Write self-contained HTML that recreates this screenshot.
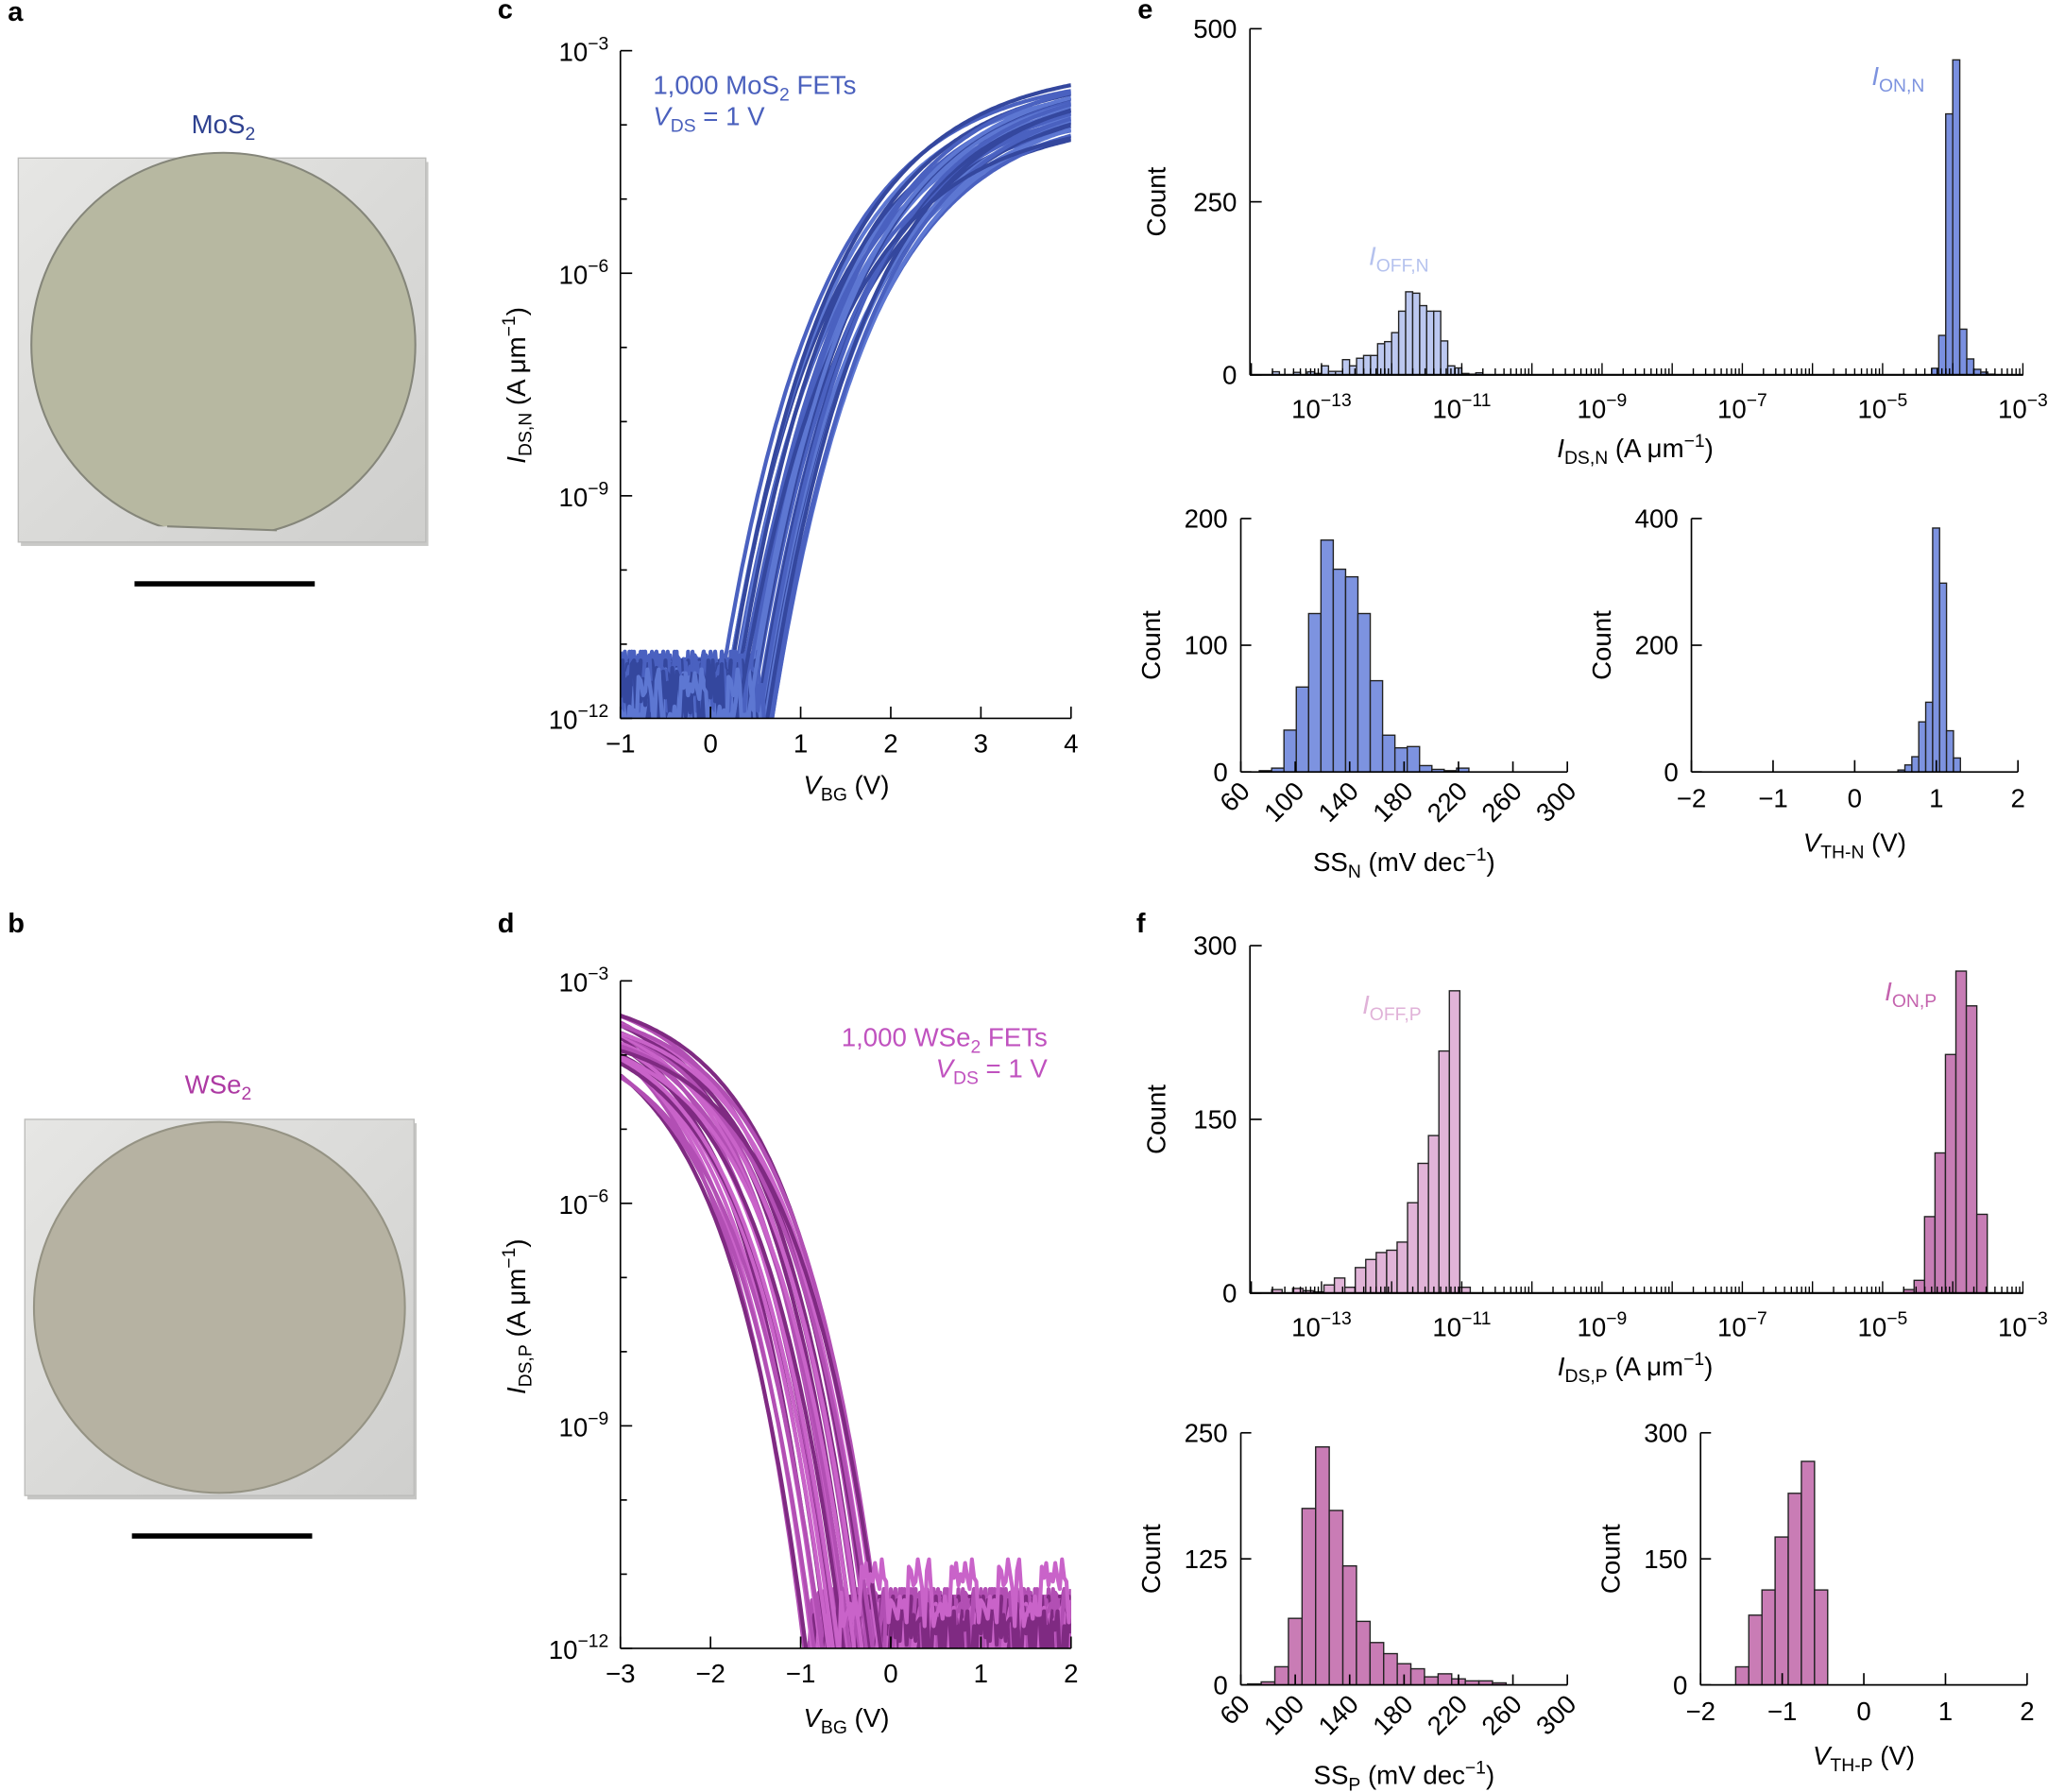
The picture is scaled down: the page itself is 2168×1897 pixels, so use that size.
<!DOCTYPE html>
<html><head><meta charset="utf-8"><title>MoS2 / WSe2 FET wafer statistics</title>
<style>
html,body{margin:0;padding:0;background:#fff;}
svg{display:block;font-family:"Liberation Sans",Arial,sans-serif;}
</style></head>
<body>
<svg id="fig" xmlns="http://www.w3.org/2000/svg" width="2168" height="1897" viewBox="0 0 1568 1372" preserveAspectRatio="none">
<defs>
<linearGradient id="frameA" x1="0" y1="0" x2="1" y2="1"><stop offset="0" stop-color="#e6e6e4"/><stop offset="1" stop-color="#cfcfcd"/></linearGradient>
<clipPath id="clipC"><rect x="475" y="39" width="345" height="511"/></clipPath>
<clipPath id="clipD"><rect x="475" y="751" width="345" height="511"/></clipPath>
<clipPath id="flatA"><path d="M 0 0 H 400 V 404 L 212 406 L 128 403 L 0 403 Z"/></clipPath>
</defs>
<text x="6" y="16" font-size="21" font-weight="bold">a</text>
<text x="6" y="714" font-size="21" font-weight="bold">b</text>
<text x="381" y="14" font-size="21" font-weight="bold">c</text>
<text x="381" y="714" font-size="21" font-weight="bold">d</text>
<text x="871" y="14" font-size="21" font-weight="bold">e</text>
<text x="870" y="714" font-size="21" font-weight="bold">f</text>

<g>
<text x="171" y="102" font-size="20" fill="#2e4190" text-anchor="middle">MoS<tspan font-size="14" dy="5">2</tspan></text>
<rect x="16" y="124" width="312" height="294" fill="#c9c9c7"/>
<rect x="14" y="121" width="312" height="294" fill="url(#frameA)" stroke="#bdbdbb"/>
<ellipse cx="171" cy="264" rx="147" ry="147" fill="#b7b8a1" stroke="#85867a" stroke-width="1.5" clip-path="url(#flatA)"/>
<path d="M 128 403 L 212 406" stroke="#85867a" stroke-width="1.5"/>
<rect x="103" y="445" width="138" height="4" fill="#000"/>
</g>
<g>
<text x="167" y="837" font-size="20" fill="#ad3aa3" text-anchor="middle">WSe<tspan font-size="14" dy="5">2</tspan></text>
<rect x="21" y="860" width="298" height="288" fill="#c6c6c4"/>
<rect x="19" y="857" width="298" height="288" fill="url(#frameA)" stroke="#bdbdbb"/>
<circle cx="168" cy="1001" r="142" fill="#b6b2a2" stroke="#959384" stroke-width="1.5"/>
<rect x="101" y="1174" width="138" height="4" fill="#000"/>
</g>

<g id="plots"></g>
</svg>
<script>
const noise = [0.3,-0.8,0.9,-0.2,0.5,-0.6,0.1,0.7,-0.9,0.4,-0.3,0.8,-0.5,0.2,-0.7,0.6,-0.1,0.9,-0.4,0.0,0.5,-0.9,0.3,-0.6,0.8,-0.2,0.4,-0.8,0.1,0.7,-0.5,0.6,-0.3,0.2,-0.7,0.9,-0.1,0.4,-0.6,0.3];
const vthN = [0.02,0.05,0.08,0.1,0.12,0.15,0.17,0.2,0.22,0.25,0.27,0.3,0.32,0.33,0.35,0.37,0.4,0.42,0.44,0.46,0.48,0.5,0.52,0.54,0.56,0.58,0.6,0.62,0.18,0.38];
const ltopN = [-3.3,-3.6,-3.4,-3.7,-3.2,-3.5,-3.8,-3.3,-3.6,-3.4,-3.9,-3.5,-3.25,-3.7,-3.4,-3.6,-3.3,-3.8,-3.5,-3.45,-3.7,-3.35,-3.6,-3.55,-3.75,-3.4,-3.65,-3.5,-3.9,-3.3];
const vthP = [-0.95,-0.9,-0.85,-0.8,-0.78,-0.75,-0.7,-0.68,-0.65,-0.6,-0.58,-0.55,-0.5,-0.48,-0.45,-0.42,-0.4,-0.35,-0.32,-0.3,-0.28,-0.25,-0.2,-0.18,-0.15,-0.12,-0.1,-0.08,-0.05,-0.6];
const ltopP = [-3.1,-3.4,-3.2,-3.5,-3.0,-3.3,-3.6,-3.2,-3.4,-3.1,-3.5,-3.3,-3.0,-3.45,-3.2,-3.35,-3.1,-3.55,-3.25,-3.15,-3.4,-3.05,-3.3,-3.2,-3.5,-3.1,-3.35,-3.25,-3.6,-3.4];
const offNCounts = [4.5,0,0,3.6,0,4.5,2,13,5,5,22,13,24,28,28,45,48,61,92,120,118,100,92,92,49,13,10,2,1,3];
const offNStart = -13.7, offNWidth = 0.1;
const onNCounts = [9.5,57,377,455,66,23,8,4,1];
const onNStart = -4.3, onNWidth = 0.1;
const offPCounts = [3,0,4,2,1,7,13,5,22,29,35,37,44,78,112,136,209,261,5];
const offPStart = -13.71, offPWidth = 0.149;
const onPCounts = [3,11,66,121,206,278,248,68];
const onPStart = -4.70, onPWidth = 0.149;
const ssNCounts = [1,3,33,67,125,183,160,154,125,72,29,19,20,5,2,1,3];
const ssNStart = 73.6, ssNWidth = 9.06;
const vthNCounts = [3,11,24,79,110,385,298,65,22];
const vthNStart = 0.53, vthNWidth = 0.085;
const ssPCounts = [1,3,18,66,175,236,173,118,63,42,31,21,16,8,11,6,4,4,2];
const ssPStart = 65, ssPWidth = 10;
const vthPCounts = [21.5,83,113,176,228,266,113];
const vthPStart = -1.57, vthPWidth = 0.161;
const ssTicks = [60,100,140,180,220,260,300];
const vthTicks = [-2,-1,0,1,2];
const logHistTicks = [-13,-11,-9,-7,-5,-3];

const NS = 'http://www.w3.org/2000/svg';
const root = document.getElementById('plots');
function el(tag, attrs, parent) {
  const e = document.createElementNS(NS, tag);
  for (const k in attrs) e.setAttribute(k, attrs[k]);
  (parent || root).appendChild(e);
  return e;
}
function group(name) {
  const g = el('g', {});
  
  
  return g;
}
function line(g, x1, y1, x2, y2, w) {
  return el('line', {x1, y1, x2, y2, stroke: '#000', 'stroke-width': w || 1.2}, g);
}
function label(g, x, y, txt, anchor, size, name) {
  const t = el('text', {x, y, 'font-size': size || 20, 'text-anchor': anchor || 'middle'}, g);
  t.textContent = txt;
  
  
  return t;
}
function powLabel(g, x, y, exp, anchor, name) {
  const t = el('text', {x, y, 'font-size': 20, 'text-anchor': anchor || 'middle'}, g);
  
  
  const a = el('tspan', {}, t); a.textContent = '10';
  const b = el('tspan', {dy: -9, 'font-size': 14}, t); b.textContent = '\u2212' + Math.abs(exp);
  return t;
}
function richText(g, x, y, parts, anchor, fill, name, rotate) {
  const attrs = {x, y, 'font-size': 20, 'text-anchor': anchor || 'middle', fill: fill || '#000'};
  if (rotate) attrs.transform = 'rotate(-90 ' + x + ' ' + y + ')';
  const t = el('text', attrs, g);
  
  
  let shift = 0;
  parts.forEach(p => {
    const s = el('tspan', {}, t);
    let d = 0;
    if (p.sub) { d = 5; s.setAttribute('font-size', 14); }
    if (p.sup) { d = -8; s.setAttribute('font-size', 14); }
    if (p.it) s.setAttribute('font-style', 'italic');
    s.setAttribute('dy', d - shift);
    shift = d;
    s.textContent = p.t;
  });
  return t;
}
function hist(g, start, width, counts, xs, ys, fill, name) {
  counts.forEach((c, i) => {
    if (c <= 0) return;
    const x0 = xs(start + i * width), x1 = xs(start + (i + 1) * width);
    const r = el('rect', {x: x0, y: ys(c), width: x1 - x0, height: ys(0) - ys(c), fill, stroke: '#222', 'stroke-width': 1}, g);
    
    
  });
}
const noiseAt = (i, k) => noise[(i * 3 + k * 7 + ((i * k) % 5)) % noise.length];

{
  const xC = v => 475 + (v + 1) * 69;
  const yC = l => 550 - (l + 12) * 56.8;
  const g = group('transfer-curves-mos2');
  const cg = el('g', {'clip-path': 'url(#clipC)'}, g);
  const cols = ['#4a61c0', '#34479e', '#5d77d2'];
  vthN.forEach((vt, k) => {
    const pts = [];
    for (let i = 0; i <= 200; i++) {
      const v = -1 + i * 0.025;
      let l;
      if (v < vt - 0.03) l = -11.55 + 0.5 * noiseAt(i, k) - (k % 3) * 0.12;
      else l = ltopN[k] - 9.0 * Math.exp(-(v - vt) / 1.1);
      l = Math.max(l, -12.2);
      pts.push(xC(v).toFixed(1) + ',' + yC(l).toFixed(1));
    }
    const p = el('polyline', {points: pts.join(' '), fill: 'none', stroke: cols[k % 3], 'stroke-width': 3, 'stroke-linejoin': 'round'}, cg);
    
    
  });
  line(g, 475, 39, 475, 550); line(g, 475, 550, 820, 550);
  for (let d = -12; d <= -3; d++) {
    const major = (d % 3 === 0);
    line(g, 475, yC(d), 475 + (major ? 9 : 5), yC(d));
    if (major) powLabel(g, 466, yC(d) + 8, d, 'end', 'c-y-tick-label');
  }
  for (let v = -1; v <= 4; v++) {
    line(g, xC(v), 550, xC(v), 541);
    label(g, xC(v), 576, v < 0 ? '\u2212' + (-v) : '' + v, 'middle', 20, 'c-x-tick-label');
  }
  richText(g, 648, 608, [{t: 'V', it: 1}, {t: 'BG', sub: 1}, {t: ' (V)'}], 'middle', '#000', 'c-x-axis-title');
  richText(g, 402, 295, [{t: 'I', it: 1}, {t: 'DS,N', sub: 1}, {t: ' (A \u03bcm'}, {t: '\u22121', sup: 1}, {t: ')'}], 'middle', '#000', 'c-y-axis-title', true);
  richText(g, 500, 72, [{t: '1,000 MoS'}, {t: '2', sub: 1}, {t: ' FETs'}], 'start', '#4a60bd', 'c-annotation-count');
  richText(g, 500, 96, [{t: 'V', it: 1}, {t: 'DS', sub: 1}, {t: ' = 1 V'}], 'start', '#4a60bd', 'c-annotation-vds');
}
{
  const xD = v => 475 + (v + 3) * 69;
  const yD = l => 1262 - (l + 12) * 56.78;
  const g = group('transfer-curves-wse2');
  const cg = el('g', {'clip-path': 'url(#clipD)'}, g);
  const cols = ['#b24fb4', '#7f2a82', '#c963c9'];
  vthP.forEach((vt, k) => {
    const pts = [];
    for (let i = 0; i <= 200; i++) {
      const v = -3 + i * 0.025;
      let l;
      if (v > vt + 0.03) l = (k === 29 ? -11.25 : -11.65 - (k % 3) * 0.1) + 0.5 * noiseAt(i, k);
      else l = ltopP[k] - 9.0 * Math.exp(-(vt - v) / 0.9);
      l = Math.max(l, -12.2);
      pts.push(xD(v).toFixed(1) + ',' + yD(l).toFixed(1));
    }
    const p = el('polyline', {points: pts.join(' '), fill: 'none', stroke: cols[k % 3], 'stroke-width': 3, 'stroke-linejoin': 'round'}, cg);
    
    
  });
  line(g, 475, 751, 475, 1262); line(g, 475, 1262, 820, 1262);
  for (let d = -12; d <= -3; d++) {
    const major = (d % 3 === 0);
    line(g, 475, yD(d), 475 + (major ? 9 : 5), yD(d));
    if (major) powLabel(g, 466, yD(d) + 8, d, 'end', 'd-y-tick-label');
  }
  for (let v = -3; v <= 2; v++) {
    line(g, xD(v), 1262, xD(v), 1253);
    label(g, xD(v), 1288, v < 0 ? '\u2212' + (-v) : '' + v, 'middle', 20, 'd-x-tick-label');
  }
  richText(g, 648, 1322, [{t: 'V', it: 1}, {t: 'BG', sub: 1}, {t: ' (V)'}], 'middle', '#000', 'd-x-axis-title');
  richText(g, 402, 1008, [{t: 'I', it: 1}, {t: 'DS,P', sub: 1}, {t: ' (A \u03bcm'}, {t: '\u22121', sup: 1}, {t: ')'}], 'middle', '#000', 'd-y-axis-title', true);
  richText(g, 802, 801, [{t: '1,000 WSe'}, {t: '2', sub: 1}, {t: ' FETs'}], 'end', '#c052bf', 'd-annotation-count');
  richText(g, 802, 825, [{t: 'V', it: 1}, {t: 'DS', sub: 1}, {t: ' = 1 V'}], 'end', '#c052bf', 'd-annotation-vds');
}
function logHist(name, y0, yTop, maxC, yTicks, offC, offS, offW, onC, onS, onW, offFill, onFill, offLab, onLab, subLetter) {
  const xs = l => 957 + (l + 14.02) * 53.7;
  const ys = c => y0 - c * (y0 - yTop) / maxC;
  const g = group(name);
  hist(g, offS, offW, offC, xs, ys, offFill, name + '-off');
  hist(g, onS, onW, onC, xs, ys, onFill, name + '-on');
  line(g, 957, yTop, 957, y0); line(g, 957, y0, 1549, y0, 1.6);
  yTicks.forEach(c => {
    line(g, 957, ys(c), 966, ys(c));
    label(g, 947, ys(c) + 7, '' + c, 'end', 20, name + '-y-tick-label');
  });
  for (let d = -14; d <= -3; d++) {
    for (let m = 1; m <= 9; m++) {
      const l = d + Math.log10(m);
      if (l < -14.02 || l > -2.99) continue;
      line(g, xs(l), y0, xs(l), y0 - (m === 1 ? 9 : 5), 1);
    }
  }
  logHistTicks.forEach(d => powLabel(g, xs(d), y0 + 33, d, 'middle', name + '-x-tick-label'));
  richText(g, 892, (y0 + yTop) / 2, [{t: 'Count'}], 'middle', '#000', name + '-y-axis-title', true);
  richText(g, 1252, y0 + 63, [{t: 'I', it: 1}, {t: 'DS,' + subLetter, sub: 1}, {t: ' (A \u03bcm'}, {t: '\u22121', sup: 1}, {t: ')'}], 'middle', '#000', name + '-x-axis-title');
  richText(g, offLab[0], offLab[1], [{t: 'I', it: 1}, {t: 'OFF,' + subLetter, sub: 1}], 'start', offLab[2], name + '-off-label');
  richText(g, onLab[0], onLab[1], [{t: 'I', it: 1}, {t: 'ON,' + subLetter, sub: 1}], 'start', onLab[2], name + '-on-label');
}
logHist('current-histogram-n', 287, 22, 500, [0, 250, 500], offNCounts, offNStart, offNWidth, onNCounts, onNStart, onNWidth, '#bcc8f0', '#7a90e0', [1048, 203, '#b5c2ee'], [1433, 65, '#7d93df'], 'N');
logHist('current-histogram-p', 990, 724, 300, [0, 150, 300], offPCounts, offPStart, offPWidth, onPCounts, onPStart, onPWidth, '#e1b4d8', '#c77db5', [1043, 776, '#e0b2d8'], [1443, 766, '#c463ae'], 'P');

function ssHist(name, yAxisX, y0, yTop, maxC, yTicks, counts, start, width, fill, sub) {
  const xs = m => 950 + (m - 60) * 250 / 240;
  const ys = c => y0 - c * (y0 - yTop) / maxC;
  const g = group(name);
  hist(g, start, width, counts, xs, ys, fill, name);
  line(g, 950, yTop, 950, y0); line(g, 950, y0, 1200, y0);
  yTicks.forEach(c => {
    line(g, 950, ys(c), 958, ys(c));
    label(g, 940, ys(c) + 7, '' + c, 'end', 20, name + '-y-tick-label');
  });
  ssTicks.forEach(m => {
    line(g, xs(m), y0, xs(m), y0 - 8);
    const t = label(g, xs(m) + 8, y0 + 16, '' + m, 'end', 20, name + '-x-tick-label');
    t.setAttribute('transform', 'rotate(-45 ' + (xs(m) + 8) + ' ' + (y0 + 16) + ')');
  });
  richText(g, 888, (y0 + yTop) / 2, [{t: 'Count'}], 'middle', '#000', name + '-y-axis-title', true);
  richText(g, 1075, y0 + 76, [{t: 'SS'}, {t: sub, sub: 1}, {t: ' (mV dec'}, {t: '\u22121', sup: 1}, {t: ')'}], 'middle', '#000', name + '-x-axis-title');
}
function vthHist(name, x0, y0, yTop, maxC, yTicks, counts, start, width, fill, sub) {
  const xs = v => x0 + (v + 2) * 62.5;
  const ys = c => y0 - c * (y0 - yTop) / maxC;
  const g = group(name);
  hist(g, start, width, counts, xs, ys, fill, name);
  line(g, x0, yTop, x0, y0); line(g, x0, y0, x0 + 250, y0);
  yTicks.forEach(c => {
    line(g, x0, ys(c), x0 + 8, ys(c));
    label(g, x0 - 10, ys(c) + 7, '' + c, 'end', 20, name + '-y-tick-label');
  });
  vthTicks.forEach(v => {
    line(g, xs(v), y0, xs(v), y0 - 9);
    label(g, xs(v), y0 + 27, v < 0 ? '\u2212' + (-v) : '' + v, 'middle', 20, name + '-x-tick-label');
  });
  richText(g, x0 - 62, (y0 + yTop) / 2, [{t: 'Count'}], 'middle', '#000', name + '-y-axis-title', true);
  richText(g, x0 + 125, y0 + 61, [{t: 'V', it: 1}, {t: 'TH-' + sub, sub: 1}, {t: ' (V)'}], 'middle', '#000', name + '-x-axis-title');
}
ssHist('ss-histogram-n', 950, 591, 397, 200, [0, 100, 200], ssNCounts, ssNStart, ssNWidth, '#7d93e0', 'N');
vthHist('vth-histogram-n', 1295, 591, 397, 400, [0, 200, 400], vthNCounts, vthNStart, vthNWidth, '#7d93e0', 'N');
ssHist('ss-histogram-p', 950, 1290, 1097, 250, [0, 125, 250], ssPCounts, ssPStart, ssPWidth, '#c97cb5', 'P');
vthHist('vth-histogram-p', 1302, 1290, 1097, 300, [0, 150, 300], vthPCounts, vthPStart, vthPWidth, '#c97cb5', 'P');
</script>
</body></html>
